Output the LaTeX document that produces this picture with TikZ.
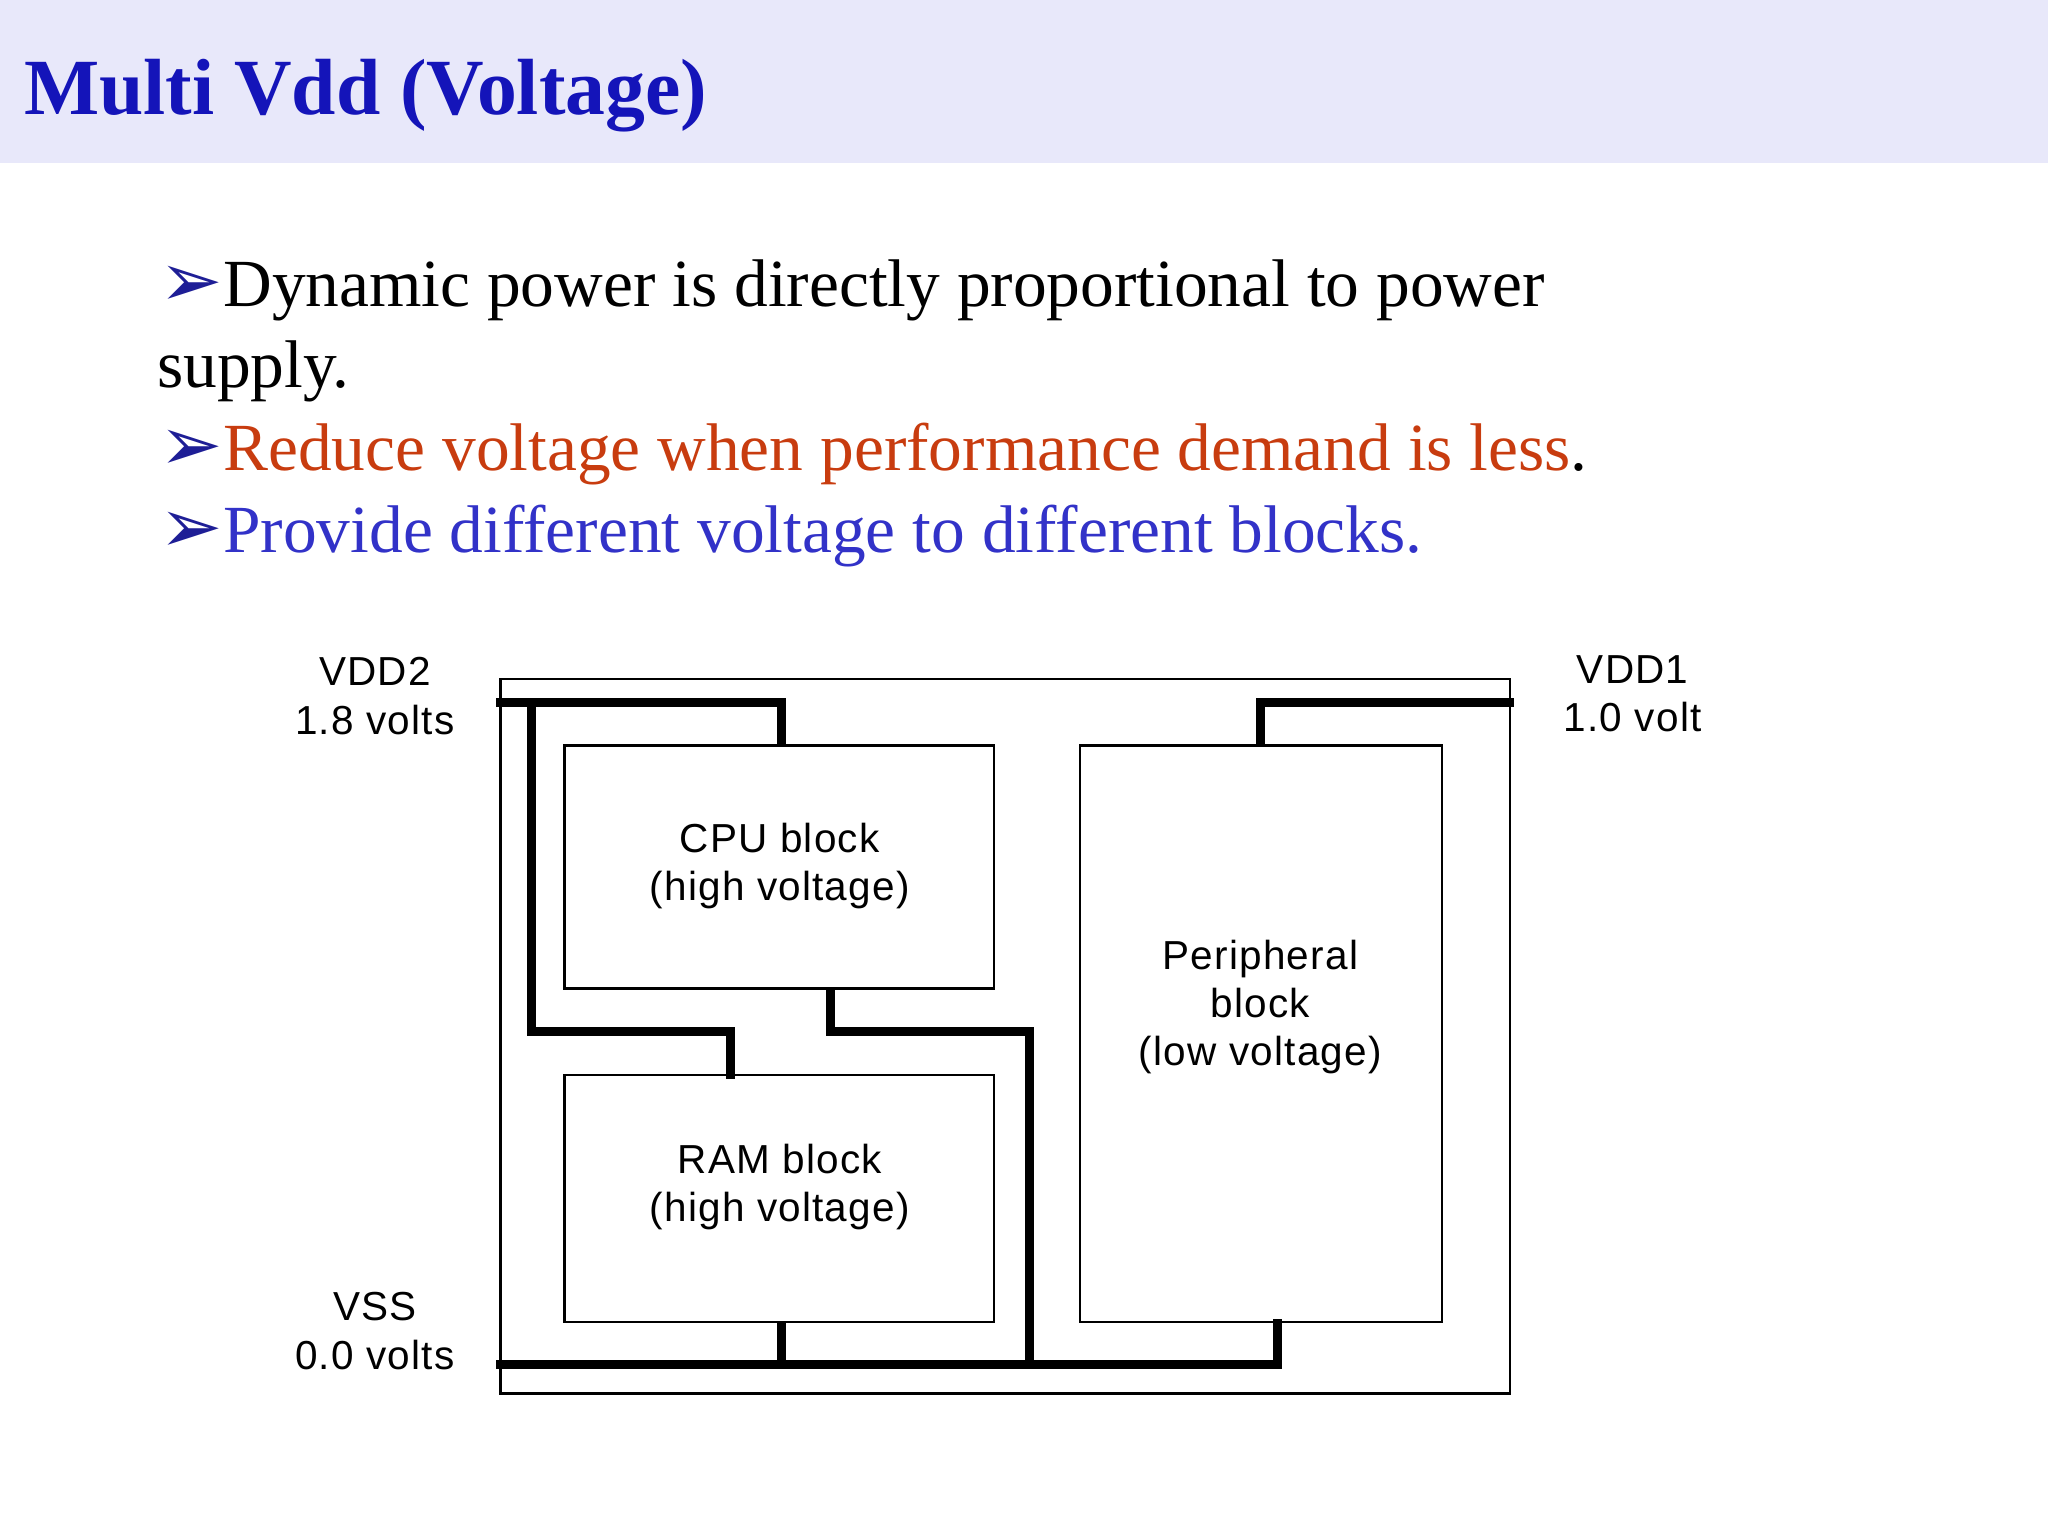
\documentclass[tikz,border=0pt]{standalone}
\usepackage{fontspec}
\setmainfont{Liberation Serif}
\newfontfamily\lsans[LetterSpace=3]{Liberation Sans}
\newfontfamily\djsans{DejaVu Sans}
\definecolor{band}{RGB}{232,232,250}
\definecolor{ttl}{RGB}{20,20,185}
\definecolor{rd}{RGB}{200,60,15}
\definecolor{bl}{RGB}{50,50,200}
\definecolor{bul}{RGB}{30,30,150}
\tikzset{blk/.style={draw,line width=1pt},wire/.style={line width=3.5pt},
lab/.style={font=\lsans\fontsize{15.5}{18.5}\selectfont,align=center,inner sep=0},
bl/.style={anchor=base west,inner sep=0,font=\fontsize{25.8}{30}\selectfont}}
\newcommand{\bu}{{\djsans\color{bul}\fontsize{29}{30}\selectfont\symbol{"27A2}}}
\begin{document}
\begin{tikzpicture}[x=0.5pt,y=-0.5pt]
\useasboundingbox (0,0) rectangle (1568,1176);
\fill[band] (0,0) rectangle (1568,125);
\node[anchor=base west,inner sep=0,text=ttl,font=\bfseries\fontsize{30.5}{34}\selectfont] (t) at (18,88) {Multi Vdd (Voltage)};
\node[bl] (b1) at (122,235) {\bu Dynamic power is directly proportional to power};
\node[bl] (b2) at (120,297) {supply.};
\node[bl] (b3) at (122,360) {\bu \textcolor{rd}{Reduce voltage when performance demand is less}.};
\node[bl,text=bl] (b4) at (122,423) {\bu Provide different voltage to different blocks.};
\draw[blk] (383,520) rectangle (1156,1067);
\node[blk,minimum width=164.5pt,minimum height=93pt,inner sep=0] (cpu) at (596.5,664) {};
\node[blk,minimum width=164.5pt,minimum height=94.5pt,inner sep=0] (ram) at (596.5,917.5) {};
\node[blk,minimum width=138.5pt,minimum height=220.5pt,inner sep=0] (per) at (965.5,791.5) {};
\node[lab] at (597,663) {CPU block\\(high voltage)};
\node[lab] at (597,909) {RAM block\\(high voltage)};
\node[lab] at (965,771) {Peripheral\\block\\(low voltage)};
\node[lab] at (287,533) {VDD2\\1.8 volts};
\node[lab] at (1250,531) {VDD1\\1.0 volt};
\node[lab] at (287,1019) {VSS\\0.0 volts};
\draw[wire] (380,538) -| (598,571);
\draw[wire] (407,538) |- (559,790) -- (559,826);
\draw[wire] (636,757) |- (788,790) -- (788,1045);
\draw[wire] (380,1045) -| (978,1010);
\draw[wire] (598,1012) -- (598,1045);
\draw[wire] (1159,538) -| (965,571);
\end{tikzpicture}
\end{document}
